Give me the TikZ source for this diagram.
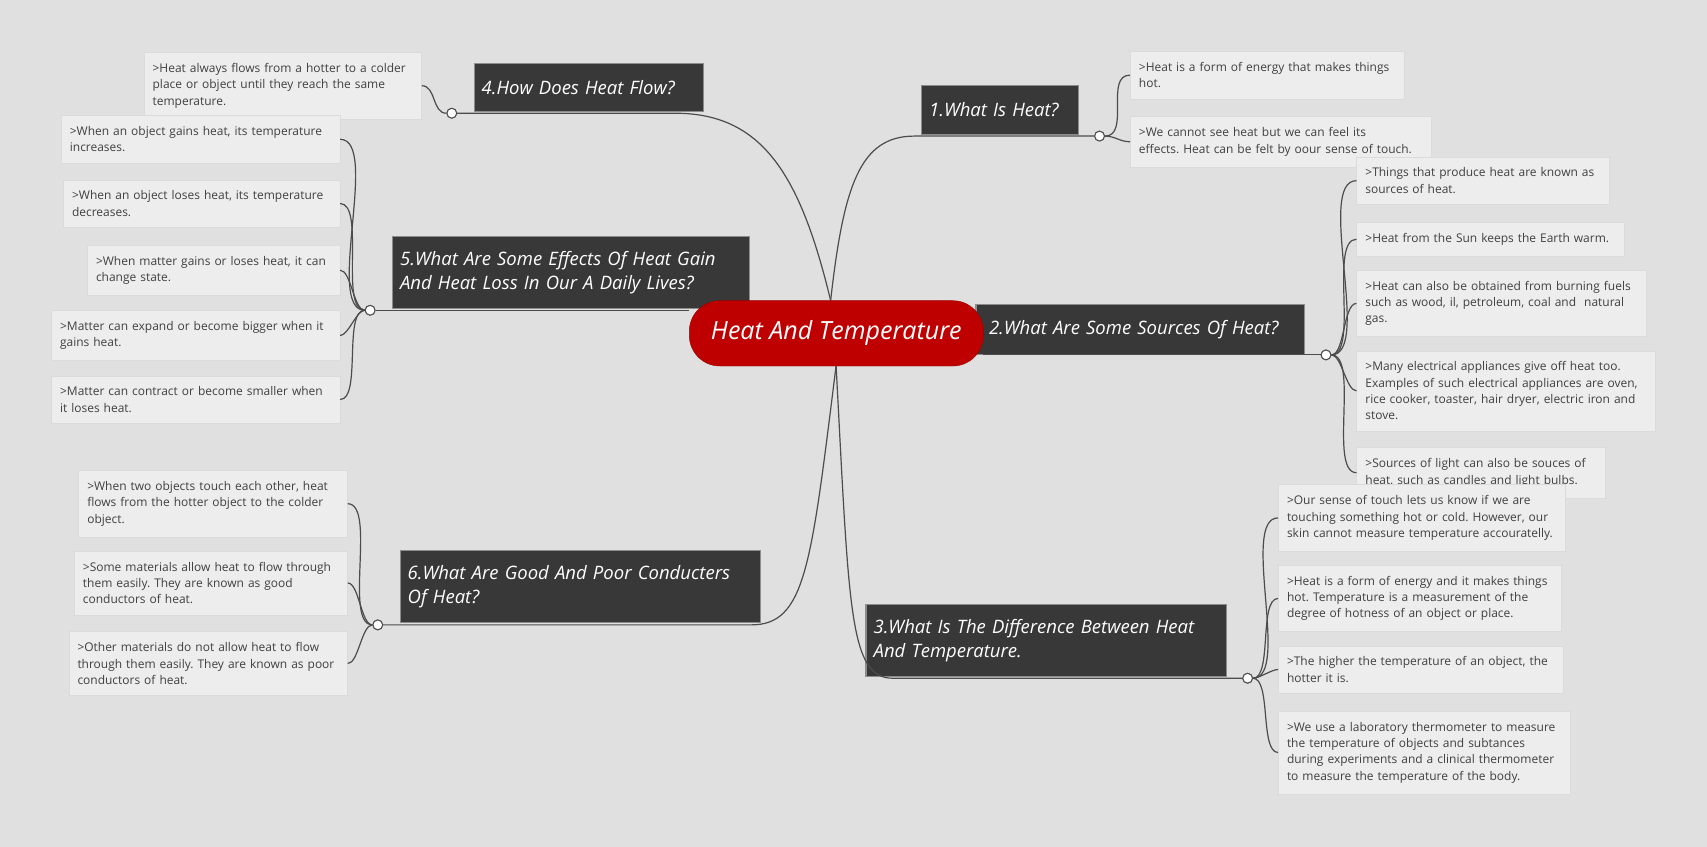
\documentclass[tikz,border=0pt]{standalone}
\usepackage{fontspec}
\setmainfont{Open Sans}
\frenchspacing
\begin{document}
\begin{tikzpicture}[x=1pt,y=-1pt,
  leaf/.style={draw=black!14,fill=black!7,anchor=north west,align=left,inner xsep=8pt,inner ysep=10pt,text=black!75,font=\fontsize{11}{15}\selectfont},
  topic/.style={draw=black!45,line width=1pt,fill=black!78,anchor=north west,align=left,inner sep=0pt,text=white,font=\fontsize{17}{22}\selectfont\itshape},
  jn/.style={circle,draw=black!70,fill=white,line width=0.9pt,inner sep=0pt,minimum size=9pt},
  ln/.style={draw=black!70,line width=1.1pt}]
\fill[black!12] (0,0) rectangle (1568,778);
\useasboundingbox (0,0) rectangle (1568,778);
% topics
\node[topic,minimum width=144,minimum height=45,text width=130,inner xsep=7pt] (t1) at (846,78) {1.What Is Heat?};
\node[topic,minimum width=302,minimum height=46,text width=290,inner xsep=6pt] (t2) at (896,279) {\hspace{6pt}2.What Are Some Sources Of Heat?};
\node[topic,minimum width=331,minimum height=66,text width=317,inner xsep=7pt] (t3) at (795,555) {3.What Is The Difference Between Heat\\And Temperature.};
\node[topic,minimum width=211,minimum height=44,text width=197,inner xsep=7pt] (t4) at (435,58) {4.How Does Heat Flow?};
\node[topic,minimum width=328,minimum height=66,text width=314,inner xsep=7pt] (t5) at (360,217) {5.What Are Some Effects Of Heat Gain\\And Heat Loss In Our A Daily Lives?};
\node[topic,minimum width=331,minimum height=66,text width=317,inner xsep=7pt] (t6) at (367,505) {6.What Are Good And Poor Conducters\\Of Heat?};
% junctions
\node[jn] (j1) at (1010,125) {};
\node[jn] (j2) at (1218,326) {};
\node[jn] (j3) at (1146,623) {};
\node[jn] (j4) at (415,104) {};
\node[jn] (j5) at (340,285) {};
\node[jn] (j6) at (347,574) {};
\coordinate (ct) at (763,276);
\coordinate (cb) at (768,336);
% connectors from center
\draw[ln] (ct) .. controls (775,170) and (790,125) .. (840,125) -- (j1);
\draw[ln] (903,326) -- (j2);
\draw[ln] (cb) .. controls (780,560) and (780,623) .. (820,623) -- (j3);
\draw[ln] (ct) .. controls (735,160) and (700,104) .. (620,104) -- (j4);
\draw[ln] (633,285) -- (j5);
\draw[ln] (cb) .. controls (745,520) and (740,574) .. (690,574) -- (j6);
% center
\node[draw=red!60!black,fill=red!75!black,rounded corners=28pt,minimum width=270,minimum height=60,anchor=north west,text=white,font=\fontsize{23}{28}\selectfont\itshape] (c) at (633,276) {Heat And Temperature};
% leaves
\node[leaf,text width=236] (a1) at (1038,47) {>Heat is a form of energy that makes things\\hot.};
\node[leaf,text width=260] (a2) at (1038,107) {>We cannot see heat but we can feel its\\effects. Heat can be felt by oour sense of touch.};
\node[leaf,text width=216] (b1) at (1246,144) {>Things that produce heat are known as\\sources of heat.};
\node[leaf,text width=230] (b2) at (1246,204) {>Heat from the Sun keeps the Earth warm.};
\node[leaf,text width=250] (b3) at (1246,248) {>Heat can also be obtained from burning fuels\\such as wood, il, petroleum, coal and ~natural\\gas.};
\node[leaf,text width=258] (b4) at (1246,322) {>Many electrical appliances give off heat too.\\Examples of such electrical appliances are oven,\\rice cooker, toaster, hair dryer, electric iron and\\stove.};
\node[leaf,text width=212] (b5) at (1246,411) {>Sources of light can also be souces of\\heat, such as candles and light bulbs.};
\node[leaf,text width=248] (d1) at (1174,445) {>Our sense of touch lets us know if we are\\touching something hot or cold. However, our\\skin cannot measure temperature accouratelly.};
\node[leaf,text width=244] (d2) at (1174,519) {>Heat is a form of energy and it makes things\\hot. Temperature is a measurement of the\\degree of hotness of an object or place.};
\node[leaf,text width=246] (d3) at (1174,593) {>The higher the temperature of an object, the\\hotter it is.};
\node[leaf,text width=252] (d4) at (1174,653) {>We use a laboratory thermometer to measure\\the temperature of objects and subtances\\during experiments and a clinical thermometer\\to measure the temperature of the body.};
\node[leaf,text width=239] (e1) at (132,48) {>Heat always flows from a hotter to a colder\\place or object until they reach the same\\temperature.};
\node[leaf,text width=240] (f1) at (56,106) {>When an object gains heat, its temperature\\increases.};
\node[leaf,text width=238] (f2) at (58,165) {>When an object loses heat, its temperature\\decreases.};
\node[leaf,text width=216] (f3) at (80,225) {>When matter gains or loses heat, it can\\change state.};
\node[leaf,text width=249] (f4) at (47,285) {>Matter can expand or become bigger when it\\gains heat.};
\node[leaf,text width=249] (f5) at (47,345) {>Matter can contract or become smaller when\\it loses heat.};
\node[leaf,text width=231] (g1) at (72,432) {>When two objects touch each other, heat\\flows from the hotter object to the colder\\object.};
\node[leaf,text width=235] (g2) at (68,506) {>Some materials allow heat to flow through\\them easily. They are known as good\\conductors of heat.};
\node[leaf,text width=240] (g3) at (63,580) {>Other materials do not allow heat to flow\\through them easily. They are known as poor\\conductors of heat.};
% leaf connectors
\foreach \l in {a1,a2} \draw[ln] (j1) to[out=0,in=180] (\l.west);
\foreach \l in {b1,b2,b3,b4,b5} \draw[ln] (j2) to[out=0,in=180,looseness=0.6] (\l.west);
\foreach \l in {d1,d2,d3,d4} \draw[ln] (j3) to[out=0,in=180,looseness=0.6] (\l.west);
\foreach \l in {e1} \draw[ln] (j4) to[out=180,in=0] (\l.east);
\foreach \l in {f1,f2,f3,f4,f5} \draw[ln] (j5) to[out=180,in=0,looseness=0.6] (\l.east);
\foreach \l in {g1,g2,g3} \draw[ln] (j6) to[out=180,in=0,looseness=0.6] (\l.east);
\foreach \j in {j1,j2,j3,j4,j5,j6} \node[jn] at (\j) {};
\end{tikzpicture}
\end{document}
